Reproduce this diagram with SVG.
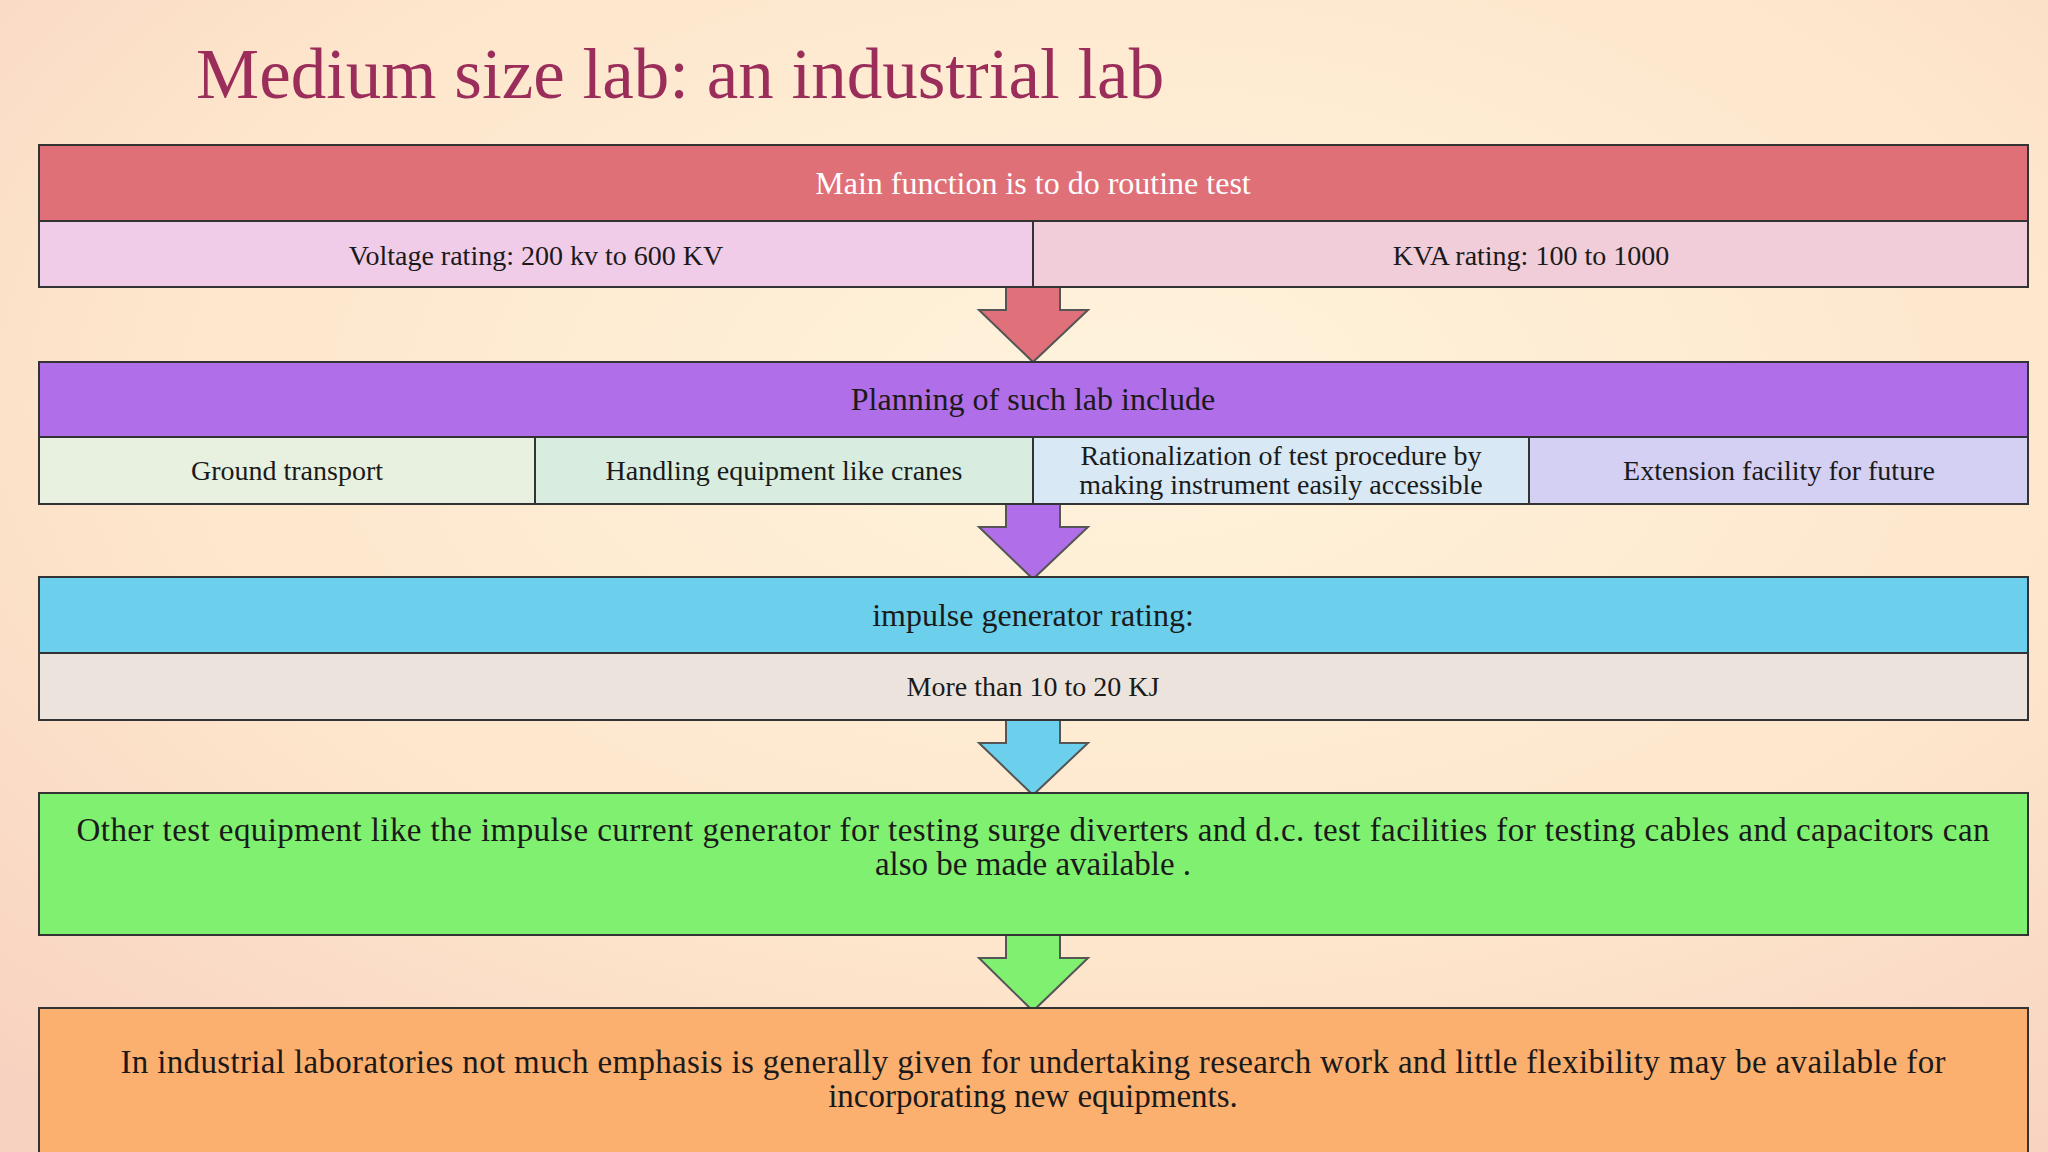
<svg xmlns="http://www.w3.org/2000/svg" width="2048" height="1152" viewBox="0 0 2048 1152">
<defs>
<radialGradient id="bg" cx="0.55" cy="0.35" r="0.8">
<stop offset="0" stop-color="#fff3dc"/><stop offset="0.6" stop-color="#fde6cc"/><stop offset="1" stop-color="#f8d2c0"/>
</radialGradient>
<style>
.t{font-family:"Liberation Serif",serif;fill:#1a1a1a;text-anchor:middle}
.h{font-size:32px}.s{font-size:28px}.b{font-size:33px}
.hw{fill:#ffffff}
.box{stroke:#333;stroke-width:2}
.ar{stroke:#555;stroke-width:2}
</style>
</defs>
<rect width="2048" height="1152" fill="url(#bg)"/>
<text x="196" y="98" font-family="Liberation Serif,serif" font-size="71" fill="#9b2d5a">Medium size lab: an industrial  lab</text>

<g id="connectors">
<polygon class="ar" fill="#e0707a" points="1006,287 1060,287 1060,310 1088,310 1033,362 979,310 1006,310"/>
<polygon class="ar" fill="#b06ee8" points="1006,504 1060,504 1060,527 1088,527 1033,579 979,527 1006,527"/>
<polygon class="ar" fill="#6cd0ec" points="1006,720 1060,720 1060,743 1088,743 1033,795 979,743 1006,743"/>
<polygon class="ar" fill="#80f070" points="1006,935 1060,935 1060,958 1088,958 1033,1011 979,958 1006,958"/>
</g>

<g id="block1">
<rect class="box" x="39" y="145" width="1989" height="76" fill="#e07078"/>
<rect class="box" x="39" y="221" width="994" height="66" fill="#f0cce8"/>
<rect class="box" x="1033" y="221" width="995" height="66" fill="#f0cdd8"/>
<text class="t h hw" x="1033" y="194">Main function is to do routine test</text>
<text class="t s" x="536" y="265">Voltage rating: 200 kv to 600 KV</text>
<text class="t s" x="1531" y="265">KVA rating: 100 to 1000</text>
</g>

<g id="block2">
<rect class="box" x="39" y="362" width="1989" height="75" fill="#b06ee8"/>
<rect class="box" x="39" y="437" width="496" height="67" fill="#e8f0e0"/>
<rect class="box" x="535" y="437" width="498" height="67" fill="#d8ece0"/>
<rect class="box" x="1033" y="437" width="496" height="67" fill="#d8e8f4"/>
<rect class="box" x="1529" y="437" width="499" height="67" fill="#d4d0f4"/>
<text class="t h" x="1033" y="410">Planning of such lab include</text>
<text class="t s" x="287" y="480">Ground transport</text>
<text class="t s" x="784" y="480">Handling equipment like cranes</text>
<text class="t s" x="1281" y="465">Rationalization of test procedure by</text>
<text class="t s" x="1281" y="494">making instrument easily accessible</text>
<text class="t s" x="1779" y="480">Extension facility for future</text>
</g>

<g id="block3">
<rect class="box" x="39" y="577" width="1989" height="76" fill="#6cd0ec"/>
<rect class="box" x="39" y="653" width="1989" height="67" fill="#ece4dc"/>
<text class="t h" x="1033" y="626">impulse generator  rating:</text>
<text class="t s" x="1033" y="696">More than 10 to 20 KJ</text>
</g>

<g id="block4">
<rect class="box" x="39" y="793" width="1989" height="142" fill="#80f070"/>
<text class="t b" x="1033" y="841" textLength="1913" lengthAdjust="spacing">Other test equipment like the impulse current generator  for testing surge diverters and d.c. test facilities for testing cables and capacitors can</text>
<text class="t b" x="1033" y="875">also be made available .</text>
</g>

<g id="block5">
<rect class="box" x="39" y="1008" width="1989" height="150" fill="#fcb070"/>
<text class="t b" x="1033" y="1073" textLength="1825" lengthAdjust="spacing">In industrial laboratories  not much emphasis is generally  given for undertaking  research work and little flexibility may be available for</text>
<text class="t b" x="1033" y="1107">incorporating new equipments.</text>
</g>
</svg>
